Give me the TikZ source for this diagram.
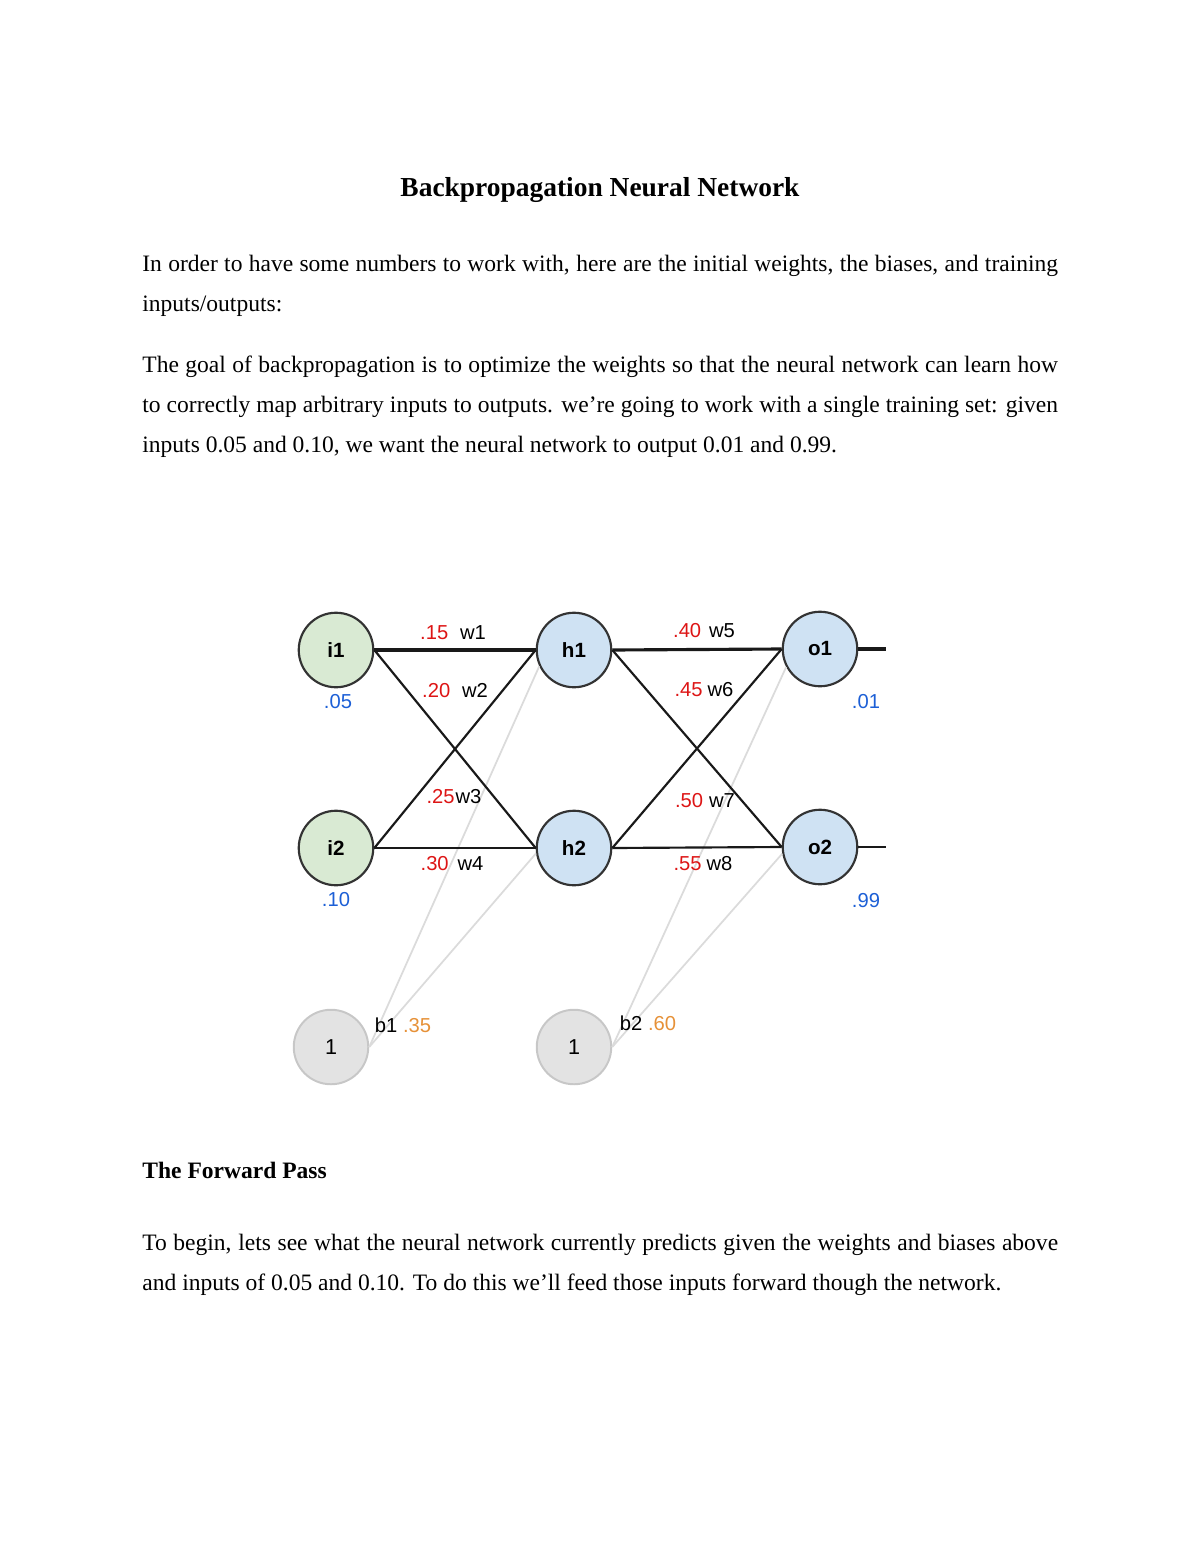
\documentclass[tikz,border=0pt]{standalone}
\usepackage{fontspec}
\setmainfont{Liberation Serif}
\newfontfamily\diagfont{Liberation Sans}
\usepackage{xcolor}

\definecolor{inputgreen}{HTML}{D9EAD3}
\definecolor{hiddenblue}{HTML}{CFE2F3}
\definecolor{biasgray}{HTML}{E3E3E3}
\definecolor{weightred}{HTML}{DD1515}
\definecolor{valueblue}{HTML}{1C5FD6}
\definecolor{biasorange}{HTML}{E69138}

\tikzset{
    neuron/.style={circle, draw=black!80, line width=1.1pt, minimum size=38pt, inner sep=0pt,
        font=\diagfont\fontsize{10.5}{12}\selectfont\bfseries},
    inputneuron/.style={neuron, fill=inputgreen},
    hiddenneuron/.style={neuron, fill=hiddenblue},
    biasneuron/.style={circle, draw=black!22, fill=biasgray, line width=1pt, minimum size=38pt,
        inner sep=0pt, font=\diagfont\fontsize{11}{13}\selectfont},
    weight/.style={line width=1.1pt, black!90},
    heavyweight/.style={line width=1.6pt, black!90},
    biasline/.style={line width=0.9pt, black!14},
    lbl/.style={inner sep=0pt, font=\diagfont\fontsize{10.3}{12}\selectfont},
    bodyline/.style={anchor=base west, inner sep=0pt, font=\fontsize{12}{14}\selectfont},
}

\begin{document}
\begin{tikzpicture}[x=0.51pt, y=-0.51pt]
    \useasboundingbox (0,0) rectangle (1200,1553);

    % Heading and first paragraphs
    \node[anchor=base, inner sep=0pt, font=\fontsize{14}{16}\selectfont\bfseries] (title) at (600,197) {Backpropagation Neural Network};
    \node[bodyline] (p1a) at (142,271) {\makebox[467pt][s]{In order to have some numbers to work with, here are the initial weights, the biases, and training}};
    \node[bodyline] (p1b) at (142,311) {inputs/outputs:};
    \node[bodyline] (p2a) at (142,372) {\makebox[467pt][s]{The goal of backpropagation is to optimize the weights so that the neural network can learn how}};
    \node[bodyline] (p2b) at (142,412) {\makebox[467pt][s]{to correctly map arbitrary inputs to outputs. we’re going to work with a single training set: given}};
    \node[bodyline] (p2c) at (142,452) {inputs 0.05 and 0.10, we want the neural network to output 0.01 and 0.99.};

    % Neurons
    \node[inputneuron] (i1) at (336,650) {i1};
    \node[inputneuron] (i2) at (336,848) {i2};
    \node[hiddenneuron] (h1) at (574,650) {h1};
    \node[hiddenneuron] (h2) at (574,848) {h2};
    \node[hiddenneuron] (o1) at (820,649) {o1};
    \node[hiddenneuron] (o2) at (820,847) {o2};
    \node[biasneuron] (b1) at (331,1047) {1};
    \node[biasneuron] (b2) at (574,1047) {1};

    % Output ends
    \coordinate (out1) at (886,649);
    \coordinate (out2) at (886,847);

    % Bias lines
    \draw[biasline] (b1.east) -- (h1.205);
    \draw[biasline] (b1.east) -- (h2.188);
    \draw[biasline] (b2.east) -- (o1.208);
    \draw[biasline] (b2.east) -- (o2.190);

    % Weights
    \draw[heavyweight] (i1.east) -- (h1.west);
    \draw[weight] (i1.east) -- (h2.west);
    \draw[weight] (i2.east) -- (h1.west);
    \draw[weight] (i2.east) -- (h2.west);
    \draw[heavyweight] (h1.east) -- (o1.west);
    \draw[weight] (h1.east) -- (o2.west);
    \draw[weight] (h2.east) -- (o1.west);
    \draw[weight] (h2.east) -- (o2.west);
    \draw[heavyweight] (o1.east) -- (out1);
    \draw[weight] (o2.east) -- (out2);

    % Weight labels
    \node[lbl] (w1) at (453,633) {\textcolor{weightred}{.15}\hspace{6pt}w1};
    \node[lbl] (w2) at (455,691) {\textcolor{weightred}{.20}\hspace{6pt}w2};
    \node[lbl] (w3) at (454,797) {\textcolor{weightred}{.25}\hspace{0.5pt}w3};
    \node[lbl] (w4) at (452,864) {\textcolor{weightred}{.30}\hspace{4.5pt}w4};
    \node[lbl] (w5) at (704,631) {\textcolor{weightred}{.40}\hspace{4pt}w5};
    \node[lbl] (w6) at (704,690) {\textcolor{weightred}{.45}\hspace{2.5pt}w6};
    \node[lbl] (w7) at (705,801) {\textcolor{weightred}{.50}\hspace{3pt}w7};
    \node[lbl] (w8) at (703,864) {\textcolor{weightred}{.55}\hspace{2.5pt}w8};

    % Inputs, targets and biases
    \node[lbl, text=valueblue] (x1) at (338,702) {.05};
    \node[lbl, text=valueblue] (x2) at (336,900) {.10};
    \node[lbl, text=valueblue] (t1) at (866,702) {.01};
    \node[lbl, text=valueblue] (t2) at (866,901) {.99};
    \node[lbl] (bb1) at (403,1025) {b1 \textcolor{biasorange}{.35}};
    \node[lbl] (bb2) at (648,1023) {b2 \textcolor{biasorange}{.60}};

    % Forward pass section
    \node[anchor=base west, inner sep=0pt, font=\fontsize{12}{14}\selectfont\bfseries] (fwd) at (142,1178) {The Forward Pass};
    \node[bodyline] (p3a) at (142,1250) {\makebox[467pt][s]{To begin, lets see what the neural network currently predicts given the weights and biases above}};
    \node[bodyline] (p3b) at (142,1290) {and inputs of 0.05 and 0.10. To do this we’ll feed those inputs forward though the network.};
\end{tikzpicture}
\end{document}
